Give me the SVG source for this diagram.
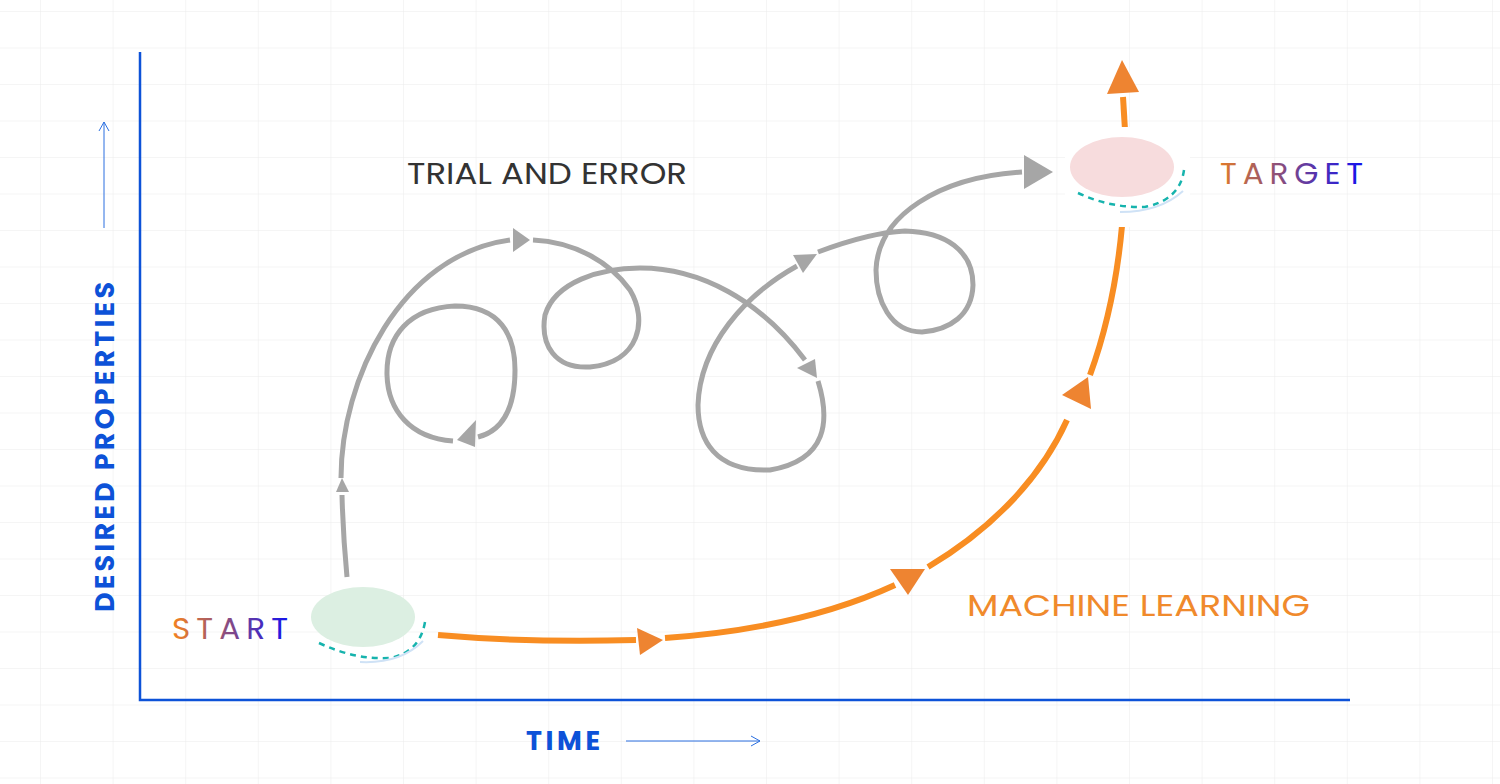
<svg xmlns="http://www.w3.org/2000/svg" width="1500" height="784" viewBox="0 0 1500 784">
<defs>
<pattern id="grid" width="72.6" height="36.5" patternUnits="userSpaceOnUse" x="40" y="11">
<path d="M0 0V36.5M0 0H72.6" fill="none" stroke="#ebebeb" stroke-width="1"/>
</pattern>
<linearGradient id="gs" gradientUnits="userSpaceOnUse" x1="172" y1="0" x2="290" y2="0"><stop offset="0" stop-color="#f58220"/><stop offset="1" stop-color="#1010f0"/></linearGradient>
<linearGradient id="gt" gradientUnits="userSpaceOnUse" x1="1220" y1="0" x2="1364" y2="0"><stop offset="0" stop-color="#e07a2a"/><stop offset="1" stop-color="#1010f0"/></linearGradient>
<marker id="thin" markerWidth="12" markerHeight="12" refX="10" refY="6" orient="auto" markerUnits="userSpaceOnUse"><path d="M1 1L10 6L1 11" fill="none" stroke="#2a6fe0" stroke-width="1"/></marker>
</defs>
<style>
.g{fill:none;stroke:#a6a6a6;stroke-width:5;stroke-linecap:butt}
.ga{fill:#a6a6a6}
.o{fill:none;stroke:#f88d22;stroke-width:6}
.oa{fill:#ee8431}
.ax{stroke:#0d52d8;stroke-width:2.5;fill:none}
.lbl{font-family:Poppins,Inter,"Open Sans",sans-serif;font-weight:700;fill:#0d52d8;font-size:27px}
.big{font-family:Poppins,Inter,"Open Sans",sans-serif;font-size:31px}
.dash{fill:none;stroke:#16b3ad;stroke-width:2.5;stroke-dasharray:6 5}
.lite{fill:none;stroke:#cfe2f6;stroke-width:2}
</style>
<rect width="1500" height="784" fill="#ffffff"/>
<rect width="1500" height="784" fill="url(#grid)"/>
<g id="axes">
<path class="ax" d="M140 52V700H1350"/>
<line x1="104" y1="228" x2="104" y2="122" stroke="#2a6fe0" stroke-width="1" marker-end="url(#thin)"/>
<line x1="626" y1="741" x2="760" y2="741" stroke="#2a6fe0" stroke-width="1" marker-end="url(#thin)"/>
<text class="lbl" transform="translate(114 612) rotate(-90)" textLength="330" lengthAdjust="spacing">DESIRED PROPERTIES</text>
<text class="lbl" x="526" y="750" textLength="74" lengthAdjust="spacing">TIME</text>
</g>
<g id="connectors">
<g id="trial">
<path class="g" d="M347 577Q343 535 342 495"/>
<polygon class="ga" points="336,492 349,492 342,478"/>
<path class="g" d="M341 478C341 380 400 255 510 240"/>
<polygon class="ga" points="513,228 513,252 530,240"/>
<path class="g" d="M533 240C575 242 610 262 630 290C648 320 640 362 590 367C555 369 540 345 545 315C555 282 600 268 640 268C700 268 760 300 805 360"/>
<polygon class="ga" points="797,368 815,359 817,378"/>
<path class="g" d="M818 381C830 420 828 460 770 470C715 472 698 440 698 405C700 345 745 295 797 266"/>
<polygon class="ga" points="793,255 817,254 803,273"/>
<path class="g" d="M818 252C850 240 880 232 905 231C945 232 973 250 973 285C972 315 950 330 922 332C890 332 876 300 876 270C878 215 940 177 1022 172"/>
<polygon class="ga" points="1024,155 1024,189 1053,172"/>
<path class="g" d="M453 441C410 438 388 410 387 375C386 335 410 308 455 306C500 306 515 335 515 370C515 405 505 430 478 437"/>
<polygon class="ga" points="457,440 476,420 475,447"/>
</g>
<g id="ml">
<path class="o" d="M438 635Q530 643 636 640"/>
<polygon class="oa" points="637,628 640,655 663,640"/>
<path class="o" d="M665 638C750 632 830 615 895 585"/>
<polygon class="oa" points="890,569 925,569 908,595"/>
<path class="o" d="M928 567C990 530 1040 480 1067 420"/>
<polygon class="oa" points="1062,395 1088,377 1091,409"/>
<path class="o" d="M1090 375C1110 320 1118 270 1122 226"/>
<path class="o" d="M1125 130L1123 97"/>
<polygon class="oa" points="1107,94 1139,92 1122,60"/>
</g>
</g>
<g id="start">
<ellipse cx="363" cy="617" rx="52" ry="30" fill="#dcefe2"/>
<path class="dash" d="M319 643Q355 660 390 658Q420 652 425 622"/>
<path class="lite" d="M360 662Q400 664 423 641"/>
<text class="big" x="172" y="639" fill="url(#gs)" textLength="116" lengthAdjust="spacing">START</text>
</g>
<g id="target">
<rect x="1065" y="127" width="125" height="100" fill="#ffffff"/>
<ellipse cx="1122" cy="167" rx="52" ry="30" fill="#f7dcdd"/>
<path class="dash" d="M1078 193Q1110 208 1145 207Q1180 200 1184 170"/>
<path class="lite" d="M1120 212Q1160 212 1183 191"/>
<text class="big" x="1220" y="184" fill="url(#gt)" textLength="143" lengthAdjust="spacing">TARGET</text>
</g>
<g id="labels">
<text class="big" x="407" y="184" fill="#333333" textLength="280" lengthAdjust="spacingAndGlyphs">TRIAL AND ERROR</text>
<text class="big" x="967" y="616" fill="#f08a2c" textLength="343" lengthAdjust="spacingAndGlyphs">MACHINE LEARNING</text>
</g>
</svg>
